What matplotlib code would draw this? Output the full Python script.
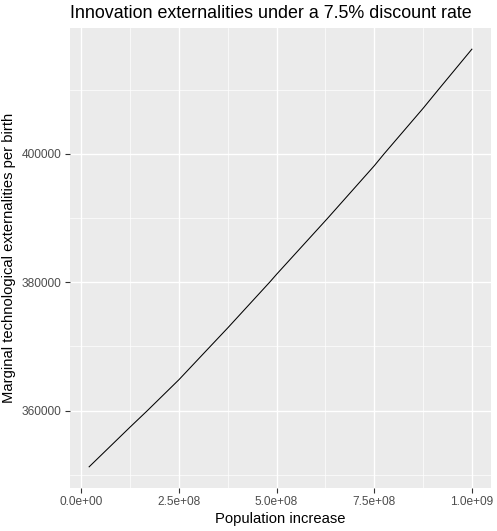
import matplotlib
matplotlib.use("Agg")
import matplotlib.pyplot as plt
from matplotlib.ticker import FixedLocator

plt.rcParams['font.family'] = ['Liberation Sans', 'DejaVu Sans']

title = "Innovation externalities under a 7.5% discount rate"
xlabel = "Population increase"
ylabel = "Marginal technological externalities per birth"

pop_increase = [2.0e7, 1.25e8, 1.69e8, 2.5e8, 3.3e8, 3.75e8, 4.82e8, 5.0e8,
                6.25e8, 6.31e8, 7.5e8, 7.75e8, 8.75e8, 9.14e8, 1.0e9]
externality = [351250, 357450, 360000, 364830, 370000, 372900, 380000, 381250,
               389600, 390000, 398150, 400000, 407100, 410000, 416324]

x_major = [0, 2.5e8, 5.0e8, 7.5e8, 1.0e9]
x_minor = [1.25e8, 3.75e8, 6.25e8, 8.75e8]
x_labels = ["0.0e+00", "2.5e+08", "5.0e+08", "7.5e+08", "1.0e+09"]
y_major = [360000, 380000, 400000]
y_minor = [350000, 370000, 390000, 410000]
y_labels = ["360000", "380000", "400000"]

W, H = 497, 531
fig = plt.figure(figsize=(W / 100, H / 100), dpi=100)
ax = fig.add_axes([70 / W, 1 - 487.7 / H, (491 - 70) / W, (487.7 - 28.3) / H])
ax.set_facecolor("#EBEBEB")

ax.plot(pop_increase, externality, color="black", linewidth=0.75)

xr = max(pop_increase) - min(pop_increase)
yr = max(externality) - min(externality)
ax.set_xlim(min(pop_increase) - 0.05 * xr, max(pop_increase) + 0.05 * xr)
ax.set_ylim(min(externality) - 0.05 * yr, max(externality) + 0.05 * yr)

ax.xaxis.set_major_locator(FixedLocator(x_major))
ax.xaxis.set_minor_locator(FixedLocator(x_minor))
ax.yaxis.set_major_locator(FixedLocator(y_major))
ax.yaxis.set_minor_locator(FixedLocator(y_minor))
ax.set_xticklabels(x_labels)
ax.set_yticklabels(y_labels)

ax.grid(which="major", color="white", linewidth=1.0)
ax.grid(which="minor", color="white", linewidth=0.5)
ax.set_axisbelow(True)
for s in ax.spines.values():
    s.set_visible(False)

ax.tick_params(which="major", length=3.5, width=0.8, color="#333333",
               labelsize=8.6, labelcolor="#4D4D4D", pad=2.5)
ax.tick_params(which="minor", length=0)

ax.set_xlabel(xlabel, fontsize=10.6, color="black", labelpad=3)
ax.set_ylabel(ylabel, fontsize=10.6, color="black", labelpad=4)
fig.text(70 / W, 1 - 14 / H, title, fontsize=12.85, color="black",
         ha="left", va="center")

fig.savefig("out.png", dpi=100)
